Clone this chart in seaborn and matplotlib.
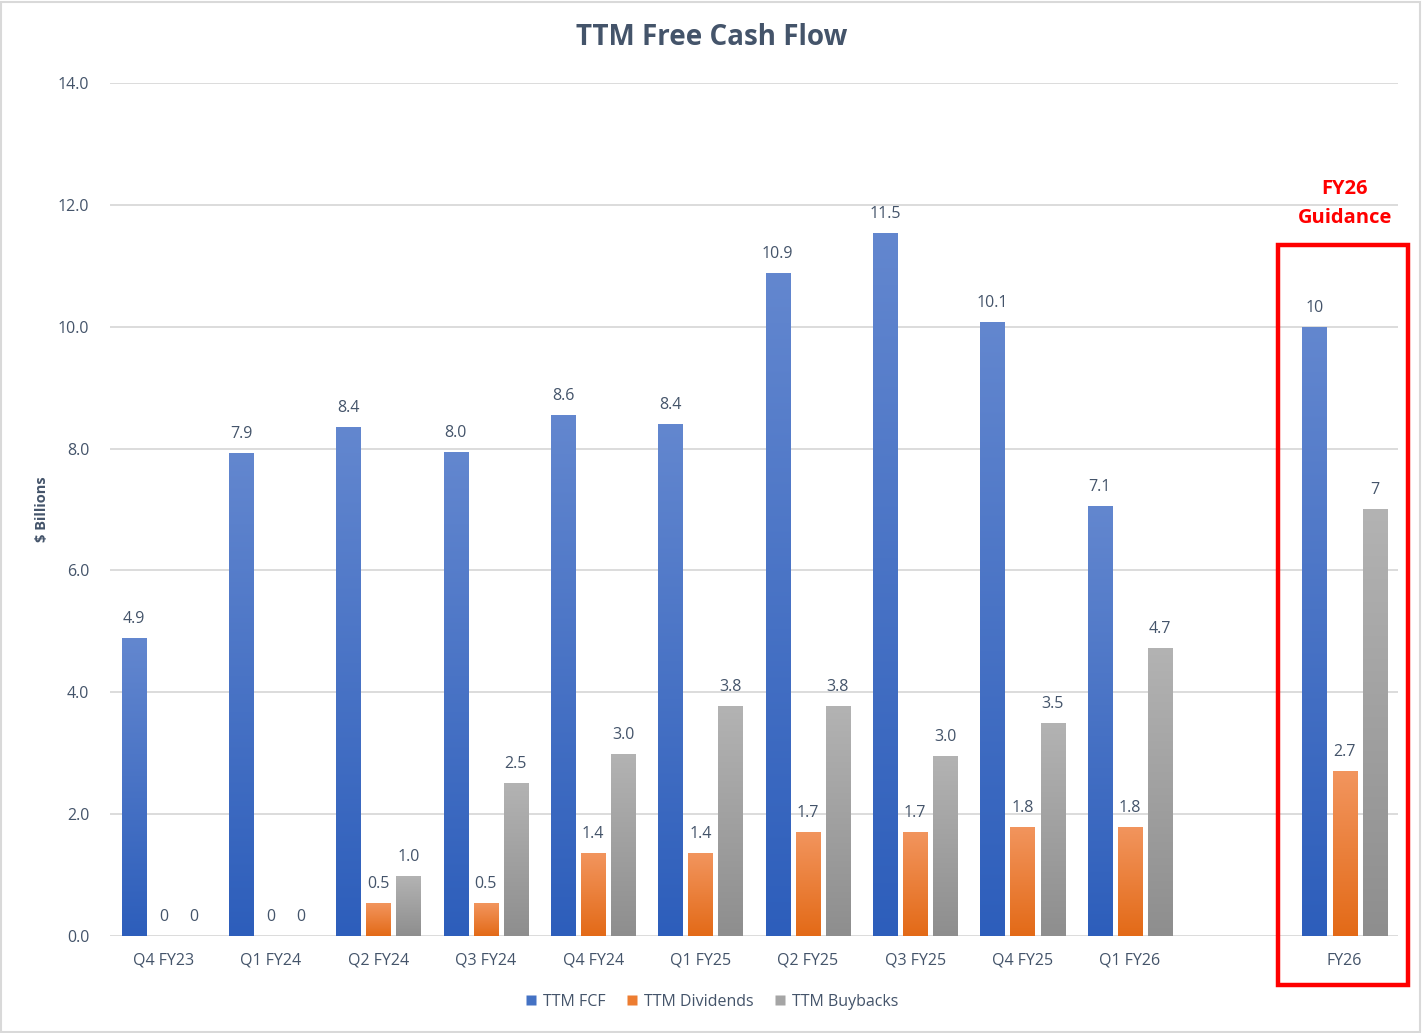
import numpy as np
import pandas as pd
import seaborn as sns
import matplotlib.pyplot as plt
from matplotlib.colors import LinearSegmentedColormap
from matplotlib.lines import Line2D
from matplotlib.patches import Rectangle

# Periods (the blank slot separates the quarters from the guidance)
periods = ['Q4 FY23', 'Q1 FY24', 'Q2 FY24', 'Q3 FY24', 'Q4 FY24', 'Q1 FY25',
           'Q2 FY25', 'Q3 FY25', 'Q4 FY25', 'Q1 FY26', ' ', 'FY26']
series = ['TTM FCF', 'TTM Dividends', 'TTM Buybacks']

fcf = [4.89, 7.93, 8.35, 7.94, 8.55, 8.40, 10.88, 11.54, 10.08, 7.06, np.nan, 10.0]
dividends = [0, 0, 0.54, 0.54, 1.36, 1.36, 1.71, 1.71, 1.79, 1.79, np.nan, 2.7]
buybacks = [0, 0, 0.98, 2.51, 2.99, 3.77, 3.77, 2.95, 3.50, 4.73, np.nan, 7.0]

fcf_labels = ['4.9', '7.9', '8.4', '8.0', '8.6', '8.4', '10.9', '11.5', '10.1', '7.1', '', '10']
div_labels = ['0', '0', '0.5', '0.5', '1.4', '1.4', '1.7', '1.7', '1.8', '1.8', '', '2.7']
buy_labels = ['0', '0', '1.0', '2.5', '3.0', '3.8', '3.8', '3.0', '3.5', '4.7', '', '7']

yticks = [0, 2, 4, 6, 8, 10, 12, 14]

# gradient colours (top, bottom) and flat colour for the legend
grad_colors = {
    'TTM FCF': ('#6387cf', '#2d5ebb'),
    'TTM Dividends': ('#f2955e', '#e36a17'),
    'TTM Buybacks': ('#b3b3b3', '#8e8e8e'),
}
flat_colors = {'TTM FCF': '#4472c4', 'TTM Dividends': '#ed7d31', 'TTM Buybacks': '#a5a5a5'}

text_color = '#44546a'
grid_color = '#d9d9d9'

rows = []
for name, vals, labs in zip(series, [fcf, dividends, buybacks],
                            [fcf_labels, div_labels, buy_labels]):
    for p, v, l in zip(periods, vals, labs):
        rows.append((p, name, v, l))
df = pd.DataFrame(rows, columns=['Period', 'Series', 'Value', 'Label'])
df = df.dropna(subset=['Value'])

sns.set_style('white')
plt.rcParams['font.family'] = ['Open Sans', 'DejaVu Sans']

fig = plt.figure(figsize=(14.23, 10.33), dpi=100)
ax = fig.add_axes([0.0773, 0.0939, 0.9053, 0.8258])

sns.barplot(data=df, x='Period', y='Value', hue='Series', order=periods,
            hue_order=series, palette=flat_colors, width=0.84, gap=0.2,
            errorbar=None, legend=False, ax=ax, zorder=3)


def fill_gradient(patch, top, bottom):
    x0, y0 = patch.get_x(), patch.get_y()
    w, h = patch.get_width(), patch.get_height()
    patch.set_facecolor('none')
    patch.set_edgecolor('none')
    if h <= 0:
        return
    cmap = LinearSegmentedColormap.from_list('g', [bottom, top])
    grad = np.linspace(0, 1, 256).reshape(-1, 1)
    im = ax.imshow(grad, cmap=cmap, origin='lower', aspect='auto',
                   extent=[x0, x0 + w, y0, y0 + h], zorder=3,
                   interpolation='bilinear')
    im.set_clip_path(patch)


for name, container in zip(series, ax.containers):
    sub = df[df['Series'] == name].set_index('Period')
    present = [p for p in periods if p in sub.index]
    labels = list(sub.loc[present, 'Label'])
    for patch in container:
        fill_gradient(patch, *grad_colors[name])
    ax.bar_label(container, labels=labels, padding=8, fontsize=11.5,
                 color=text_color)

ax.set_ylim(0, 14)
ax.set_xlim(-0.5, len(periods) - 0.5)

# axes styling
ax.set_yticks(yticks)
ax.set_yticklabels([f'{t:.1f}' for t in yticks])
ax.yaxis.grid(True, color=grid_color, linewidth=1.3, zorder=0)
ax.set_axisbelow(True)
for s in ax.spines.values():
    s.set_visible(False)
ax.tick_params(axis='y', length=0, pad=15, labelsize=11.5, labelcolor=text_color)
ax.tick_params(axis='x', length=0, pad=12, labelsize=11.5, labelcolor=text_color)
ax.set_xlabel('')
ax.set_ylabel('$ Billions', fontsize=10.5, fontweight='bold', color=text_color,
              labelpad=6)

fig.suptitle('TTM Free Cash Flow', x=0.5, y=0.9635, va='center', fontsize=20,
             fontweight='bold', color=text_color)

# guidance box and note
ax.add_patch(Rectangle((10.38, -0.80), 1.21, 12.14, fill=False,
                       edgecolor='#ff0000', linewidth=3.2, clip_on=False,
                       zorder=5))
ax.text(11.0, 12.02, 'FY26\nGuidance', ha='center', va='center',
        color='#ff0000', fontsize=14.5, fontweight='bold', linespacing=1.6)

# legend
handles = [Line2D([], [], marker='s', linestyle='none', markersize=7.5,
                  markerfacecolor=flat_colors[s], markeredgecolor='none')
           for s in series]
fig.legend(handles, series, loc='center', bbox_to_anchor=(0.5, 0.03),
           ncol=3, frameon=False, fontsize=11.5, labelcolor=text_color,
           handlelength=0.7, handletextpad=0.4, columnspacing=1.3)

# outer frame
fig.patches.append(Rectangle((0.001, 0.001), 0.997, 0.997, transform=fig.transFigure,
                             fill=False, edgecolor='#d9d9d9', linewidth=1.5))

fig.savefig('out.png', dpi=100, facecolor='white')
